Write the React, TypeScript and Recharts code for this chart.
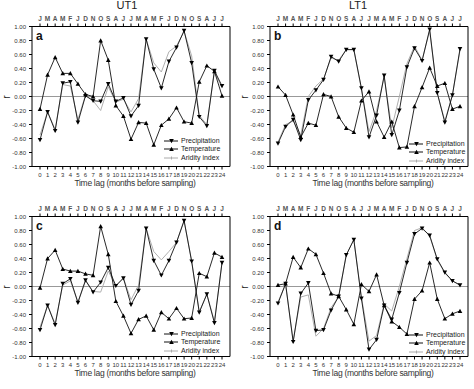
import React from 'react';
import { LineChart, Line, XAxis, YAxis, ReferenceLine } from 'recharts';

const lags = [0, 1, 2, 3, 4, 5, 6, 7, 8, 9, 10, 11, 12, 13, 14, 15, 16, 17, 18, 19, 20, 21, 22, 23, 24];
const monthLabels = ['J', 'M', 'A', 'M', 'F', 'J', 'D', 'N', 'O', 'S', 'A', 'J', 'J', 'M', 'A', 'M', 'F', 'J', 'D', 'N', 'O', 'S', 'A', 'J', 'J'];
const yTicks = [-1, -0.8, -0.6, -0.4, -0.2, 0, 0.2, 0.4, 0.6, 0.8, 1];
const seriesNames = ['Precipitation', 'Temperature', 'Aridity index'];
const panelTitles = ['UT1', 'LT1'];
const panelLetters = ['a', 'b', 'c', 'd'];
const xAxisTitle = 'Time lag (months before sampling)';
const yAxisTitle = 'r';

// Panel a (UT1, top)
const aPrecip = [-0.62, -0.22, -0.49, 0.19, 0.21, -0.37, 0.01, -0.06, -0.07, 0.18, -0.07, -0.02, -0.28, -0.13, 0.82, 0.39, 0.12, 0.50, 0.70, 0.94, 0.48, -0.29, -0.42, 0.37, 0.15];
const aTemp = [-0.18, 0.31, 0.56, 0.33, 0.33, 0.18, 0.03, 0.0, 0.80, 0.52, -0.13, -0.28, -0.61, -0.37, -0.38, -0.69, -0.41, -0.32, -0.16, -0.36, -0.38, 0.21, 0.44, 0.36, 0.01];
const aArid = [-0.55, -0.22, -0.47, 0.17, 0.15, -0.33, 0.02, -0.06, -0.20, 0.14, -0.08, -0.04, -0.22, -0.03, 0.82, 0.48, 0.35, 0.64, 0.72, 0.93, 0.58, -0.27, -0.40, 0.35, 0.13];

// Panel b (LT1, top)
const bPrecip = [-0.67, -0.43, -0.33, -0.62, -0.05, 0.09, 0.24, 0.57, 0.50, 0.67, 0.67, 0.12, -0.58, -0.27, 0.30, -0.55, -0.20, 0.42, 0.69, 0.51, 0.96, 0.05, -0.37, 0.02, 0.68];
const bTemp = [0.14, 0.02, -0.26, -0.58, -0.38, -0.41, 0.03, 0.0, -0.29, -0.45, -0.51, -0.06, 0.07, -0.36, -0.58, -0.36, -0.73, -0.72, -0.14, 0.13, 0.41, 0.15, 0.19, -0.18, -0.14];
const bArid = [-0.65, -0.40, -0.35, -0.55, 0.0, 0.15, 0.25, 0.55, 0.52, 0.67, 0.67, 0.10, -0.50, -0.20, 0.28, -0.45, 0.0, 0.47, 0.72, 0.52, 0.94, 0.05, -0.35, 0.02, 0.66];

// Panel c (UT1, bottom)
const cPrecip = [-0.62, -0.27, -0.55, 0.04, 0.11, -0.23, 0.09, -0.08, 0.06, 0.27, 0.01, 0.12, -0.26, -0.06, 0.83, 0.37, 0.16, 0.37, 0.63, 0.94, 0.36, -0.37, -0.11, -0.52, 0.34];
const cTemp = [-0.02, 0.40, 0.52, 0.25, 0.22, 0.22, 0.18, 0.16, 0.86, 0.46, -0.21, -0.42, -0.67, -0.47, -0.42, -0.62, -0.37, -0.46, -0.31, -0.46, -0.45, 0.19, 0.14, 0.48, 0.42];
const cArid = [-0.58, -0.27, -0.53, 0.02, 0.08, -0.22, 0.08, -0.07, -0.08, 0.22, 0.01, 0.12, -0.19, 0.02, 0.83, 0.50, 0.38, 0.50, 0.63, 0.94, 0.36, -0.36, -0.11, -0.50, 0.34];

// Panel d (LT1, bottom)
const dPrecip = [-0.24, 0.04, -0.79, -0.10, 0.05, -0.63, -0.62, -0.34, -0.14, 0.45, 0.67, -0.17, -0.90, -0.76, -0.27, -0.47, -0.09, 0.34, 0.75, 0.83, 0.73, 0.39, 0.20, 0.08, 0.02];
const dTemp = [0.02, 0.04, 0.42, 0.27, 0.54, 0.46, 0.19, -0.10, -0.14, -0.33, -0.54, 0.03, -0.07, 0.17, -0.27, -0.50, -0.58, -0.68, -0.18, -0.06, 0.34, -0.18, -0.46, -0.39, -0.35];
const dArid = [-0.22, 0.03, -0.78, -0.15, -0.12, -0.71, -0.60, -0.30, -0.15, 0.45, 0.67, -0.15, -0.78, -0.70, -0.25, -0.35, 0.0, 0.40, 0.80, 0.84, 0.72, 0.38, 0.19, 0.08, 0.02];

const FONT = "'Liberation Sans', Arial, sans-serif";

const build = (p: number[], t: number[], a: number[]) =>
  lags.map((lag, i) => ({ lag, precip: p[i], temp: t[i], arid: a[i] }));

const DownTri = (props: any) => {
  const { cx, cy, index } = props;
  if (cx == null || cy == null) return <g key={`dn-${index}`} />;
  return (
    <polygon
      key={`dn-${index}`}
      points={`${cx - 2.3},${cy - 1.9} ${cx + 2.3},${cy - 1.9} ${cx},${cy + 2.3}`}
      fill="#000"
    />
  );
};

const UpTri = (props: any) => {
  const { cx, cy, index } = props;
  if (cx == null || cy == null) return <g key={`up-${index}`} />;
  return (
    <polygon
      key={`up-${index}`}
      points={`${cx - 2.3},${cy + 1.9} ${cx + 2.3},${cy + 1.9} ${cx},${cy - 2.3}`}
      fill="#000"
    />
  );
};

const fmtY = (v: number) => {
  const r = Math.round(v * 100) / 100;
  if (r === 0) return '0.00';
  return r.toFixed(2);
};

type PanelProps = {
  left: number;
  top: number;
  data: any[];
};

const Panel = ({ left, top, data }: PanelProps) => (
  <div style={{ position: 'absolute', left, top, width: 237, height: 195 }}>
    <LineChart
      width={237}
      height={195}
      data={data}
      margin={{ top: 14, right: 5, bottom: 14, left: 2 }}
    >
      <XAxis
        xAxisId="bottom"
        type="number"
        dataKey="lag"
        domain={[0, 24]}
        ticks={lags}
        interval={0}
        padding={{ left: 8, right: 8 }}
        height={14.5}
        tickSize={3}
        tickMargin={3}
        stroke="#000"
        tick={{ fontSize: 6, fill: '#333', fontFamily: FONT }}
      />
      <XAxis
        xAxisId="top"
        orientation="top"
        type="number"
        dataKey="lag"
        domain={[0, 24]}
        ticks={lags}
        interval={0}
        padding={{ left: 8, right: 8 }}
        height={12.5}
        tickSize={3}
        tickMargin={3}
        stroke="#000"
        tickFormatter={(v: number) => monthLabels[v] ?? ''}
        tick={{ fontSize: 6.5, fill: '#555', fontFamily: FONT, fontWeight: 'bold' }}
      />
      <YAxis
        yAxisId="left"
        type="number"
        domain={[-1, 1]}
        ticks={yTicks}
        interval={0}
        width={30}
        tickSize={3}
        tickMargin={3}
        stroke="#000"
        tickFormatter={fmtY}
        tick={{ fontSize: 6, fill: '#333', fontFamily: FONT }}
      />
      <YAxis
        yAxisId="right"
        orientation="right"
        type="number"
        domain={[-1, 1]}
        ticks={yTicks}
        interval={0}
        width={2}
        tickSize={2}
        stroke="#000"
        tickFormatter={() => ''}
      />
      <ReferenceLine xAxisId="bottom" yAxisId="left" y={0} stroke="#999" strokeWidth={1} />
      <Line
        xAxisId="bottom"
        yAxisId="left"
        dataKey="arid"
        stroke="#b0b0b0"
        strokeWidth={1}
        dot={false}
        isAnimationActive={false}
      />
      <Line
        xAxisId="bottom"
        yAxisId="left"
        dataKey="precip"
        stroke="#111"
        strokeWidth={0.9}
        dot={DownTri}
        activeDot={false}
        isAnimationActive={false}
      />
      <Line
        xAxisId="bottom"
        yAxisId="left"
        dataKey="temp"
        stroke="#111"
        strokeWidth={0.9}
        dot={UpTri}
        activeDot={false}
        isAnimationActive={false}
      />
    </LineChart>
  </div>
);

const LegendBox = ({ left, top }: { left: number; top: number }) => (
  <div style={{ position: 'absolute', left, top, fontFamily: FONT, fontSize: 7, color: '#222' }}>
    {seriesNames.map((name, i) => (
      <div key={name} style={{ display: 'flex', alignItems: 'center', height: 8.3, lineHeight: '8.3px' }}>
        <svg width={15} height={8} style={{ marginRight: 2 }}>
          <line x1={0} y1={4} x2={14} y2={4} stroke={i === 2 ? '#aaa' : '#111'} strokeWidth={1} />
          {i === 0 && <polygon points="5.2,2.1 9.8,2.1 7.5,6.3" fill="#000" />}
          {i === 1 && <polygon points="5.2,5.9 9.8,5.9 7.5,1.7" fill="#000" />}
          {i === 2 && <line x1={7.5} y1={2.5} x2={7.5} y2={5.5} stroke="#aaa" strokeWidth={1} />}
        </svg>
        <span style={{ whiteSpace: 'nowrap' }}>{name}</span>
      </div>
    ))}
  </div>
);

const Txt = ({ left, top, children, style }: any) => (
  <div style={{ position: 'absolute', left, top, fontFamily: FONT, lineHeight: 1, whiteSpace: 'nowrap', ...style }}>
    {children}
  </div>
);

const panels = [
  { left: 0, top: 0, data: build(aPrecip, aTemp, aArid), letter: panelLetters[0] },
  { left: 238, top: 0, data: build(bPrecip, bTemp, bArid), letter: panelLetters[1] },
  { left: 0, top: 190, data: build(cPrecip, cTemp, cArid), letter: panelLetters[2] },
  { left: 238, top: 190, data: build(dPrecip, dTemp, dArid), letter: panelLetters[3] },
];

export default function App() {
  return (
    <div style={{ position: 'absolute', left: 0, top: 0, width: 474, height: 389, background: '#fff', overflow: 'hidden' }}>
      {panels.map((p, i) => (
        <React.Fragment key={i}>
          <Panel left={p.left} top={p.top} data={p.data} />
          <Txt left={p.left + 36} top={p.top + 30} style={{ fontSize: 12, fontWeight: 'bold', color: '#111' }}>
            {p.letter}
          </Txt>
          <Txt
            left={p.left + 135 - 70}
            top={p.top + 179}
            style={{ fontSize: 8.5, color: '#333', width: 140, textAlign: 'center', letterSpacing: -0.3 }}
          >
            {xAxisTitle}
          </Txt>
          <Txt
            left={p.left + 2}
            top={p.top + 92}
            style={{ fontSize: 10, color: '#222', transform: 'rotate(-90deg)', width: 10, textAlign: 'center' }}
          >
            {yAxisTitle}
          </Txt>
        </React.Fragment>
      ))}
      <Txt left={127 - 20} top={0} style={{ fontSize: 11, color: '#222', width: 40, textAlign: 'center' }}>
        {panelTitles[0]}
      </Txt>
      <Txt left={358 - 20} top={0} style={{ fontSize: 11, color: '#222', width: 40, textAlign: 'center' }}>
        {panelTitles[1]}
      </Txt>
      <LegendBox left={164} top={137} />
      <LegendBox left={409} top={140} />
      <LegendBox left={164} top={330} />
      <LegendBox left={409} top={331} />
    </div>
  );
}
